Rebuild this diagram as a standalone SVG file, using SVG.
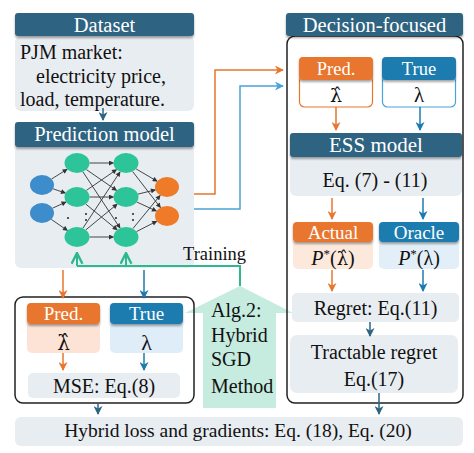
<svg xmlns="http://www.w3.org/2000/svg" width="474" height="453" viewBox="0 0 474 453">
<defs>
<style>
.t{font-family:"Liberation Serif","Times New Roman",serif;font-size:20px;fill:#111}
.m{font-family:"DejaVu Serif",serif;fill:#111}
.w{font-family:"Liberation Serif","Times New Roman",serif;font-size:20.5px;fill:#fff}
.hd{fill:#2d6482}
.gr{fill:#e8edf1}
.nn{stroke:#333;stroke-width:0.9;fill:none;marker-end:url(#ak)}
.hid{fill:#2ec49a}
.inp{fill:#3d8ccc}
.out{fill:#ef7a28}
.frame{fill:none;stroke:#222;stroke-width:1.5}
</style>
<filter id="sh" x="-5%" y="-20%" width="110%" height="160%"><feDropShadow dx="0" dy="2" stdDeviation="1.3" flood-color="#000" flood-opacity="0.35"/></filter>
<marker id="ak" viewBox="0 0 10 10" refX="9" refY="5" markerWidth="6" markerHeight="5" markerUnits="userSpaceOnUse" orient="auto"><path d="M0,0 L10,5 L0,10 z" fill="#333"/></marker>
<marker id="ao" viewBox="0 0 10 10" refX="9" refY="5" markerWidth="10" markerHeight="9" markerUnits="userSpaceOnUse" orient="auto"><path d="M0,0 L10,5 L0,10 L3,5 z" fill="#e8762d"/></marker>
<marker id="ab" viewBox="0 0 10 10" refX="9" refY="5" markerWidth="10" markerHeight="9" markerUnits="userSpaceOnUse" orient="auto"><path d="M0,0 L10,5 L0,10 L3,5 z" fill="#1b7bb0"/></marker>
<marker id="abl" viewBox="0 0 10 10" refX="9" refY="5" markerWidth="10" markerHeight="9" markerUnits="userSpaceOnUse" orient="auto"><path d="M0,0 L10,5 L0,10 L3,5 z" fill="#4aa3d6"/></marker>
<marker id="ad" viewBox="0 0 10 10" refX="9" refY="5" markerWidth="10" markerHeight="9" markerUnits="userSpaceOnUse" orient="auto"><path d="M0,0 L10,5 L0,10 L3,5 z" fill="#2d6482"/></marker>
<marker id="ag" viewBox="0 0 12 12" refX="11" refY="6" markerWidth="13" markerHeight="13" markerUnits="userSpaceOnUse" orient="auto"><path d="M1,1 L11,6 L1,11" fill="none" stroke="#2db88e" stroke-width="2.2"/></marker>
</defs>
<rect width="474" height="453" fill="#fff"/>

<g id="alg2">
<path d="M185,313 L240,286 L293,313 L276,313 L276,408 L203,408 L203,313 Z" fill="#c6ebdf"/>
<text class="t" x="211" y="317">Alg.2:</text>
<text class="t" x="211" y="342">Hybrid</text>
<text class="t" x="211" y="366">SGD</text>
<text class="t" x="211" y="393">Method</text>
</g>

<g id="dataset">
<rect x="15" y="36" width="179" height="75" rx="6" class="gr"/>
<rect x="15" y="13" width="179" height="23" rx="3" class="hd" filter="url(#sh)"/>
<text class="w" x="104.5" y="32" text-anchor="middle">Dataset</text>
<text class="t" x="20" y="59">PJM market:</text>
<text class="t" x="36" y="83">electricity price,</text>
<text class="t" x="20" y="106">load, temperature.</text>
</g>

<g id="prediction-model">
<rect x="15" y="145" width="179" height="123" rx="6" class="gr"/>
<rect x="15" y="122" width="179" height="25" rx="3" class="hd" filter="url(#sh)"/>
<text class="w" x="104.5" y="141" text-anchor="middle">Prediction model</text>
<g id="nn-edges">
<line class="nn" x1="51.6" y1="179" x2="67.2" y2="169.2"/>
<line class="nn" x1="53.1" y1="188.8" x2="65.5" y2="193.1"/>
<line class="nn" x1="52.5" y1="208.2" x2="66.1" y2="202"/>
<line class="nn" x1="51.3" y1="219.4" x2="67.5" y2="230.5"/>
<line class="nn" x1="89.5" y1="163" x2="113.5" y2="163"/>
<line class="nn" x1="86.4" y1="169.6" x2="116.6" y2="190.4"/>
<line class="nn" x1="82.9" y1="171.8" x2="120.1" y2="228.2"/>
<line class="nn" x1="86.4" y1="190.4" x2="116.6" y2="169.6"/>
<line class="nn" x1="89.5" y1="197" x2="113.5" y2="197"/>
<line class="nn" x1="85.8" y1="204.1" x2="117.2" y2="229.9"/>
<line class="nn" x1="82.9" y1="228.2" x2="120.1" y2="171.8"/>
<line class="nn" x1="85.8" y1="229.9" x2="117.2" y2="204.1"/>
<line class="nn" x1="89.5" y1="237" x2="113.5" y2="237"/>
<line class="nn" x1="136.1" y1="168.9" x2="157.2" y2="181.3"/>
<line class="nn" x1="132.6" y1="171.5" x2="160.5" y2="207.6"/>
<line class="nn" x1="138" y1="194.1" x2="155.5" y2="189.8"/>
<line class="nn" x1="136.8" y1="202" x2="156.5" y2="211.1"/>
<line class="nn" x1="132.9" y1="228.6" x2="160.2" y2="195.3"/>
<line class="nn" x1="136.5" y1="231.6" x2="156.8" y2="221.2"/>
</g>
<ellipse class="inp" cx="42" cy="185" rx="12" ry="10"/>
<ellipse class="inp" cx="42" cy="213" rx="12" ry="10"/>
<ellipse class="hid" cx="77" cy="163" rx="12.5" ry="10"/>
<ellipse class="hid" cx="77" cy="197" rx="12.5" ry="10"/>
<ellipse class="hid" cx="77" cy="237" rx="12.5" ry="10"/>
<ellipse class="hid" cx="126" cy="163" rx="12.5" ry="10"/>
<ellipse class="hid" cx="126" cy="197" rx="12.5" ry="10"/>
<ellipse class="hid" cx="126" cy="237" rx="12.5" ry="10"/>
<ellipse class="out" cx="167" cy="187" rx="12" ry="10"/>
<ellipse class="out" cx="167" cy="216" rx="12" ry="10"/>
<g fill="#222">
<circle cx="68" cy="218" r="1"/><circle cx="86" cy="214" r="1"/><circle cx="86" cy="220" r="1"/>
<circle cx="116" cy="218" r="1"/><circle cx="133" cy="214" r="1"/><circle cx="133" cy="220" r="1"/>
</g>
</g>

<g id="mse-box">
<rect x="15" y="297" width="179" height="106" rx="8" class="frame"/>
<rect x="27" y="321" width="73" height="32" rx="5" fill="#fde3d6"/>
<rect x="110" y="321" width="73" height="32" rx="5" fill="#deedf8"/>
<rect x="27" y="303" width="73" height="21" rx="4" fill="#e8762d" filter="url(#sh)"/>
<rect x="110" y="303" width="73" height="21" rx="4" fill="#1b7bb0" filter="url(#sh)"/>
<text class="w" x="63.5" y="320" text-anchor="middle" style="font-size:19px">Pred.</text>
<text class="w" x="146.5" y="320" text-anchor="middle" style="font-size:19px">True</text>
<text class="m" x="63.5" y="350" text-anchor="middle" style="font-size:20px">λ̂</text>
<text class="t" x="146.5" y="350" text-anchor="middle" style="font-size:22px">λ</text>
<rect x="28" y="373" width="152" height="25" rx="5" class="gr"/>
<text class="t" x="104" y="393" text-anchor="middle">MSE: Eq.(8)</text>
</g>

<g id="decision-focused">
<rect x="287" y="36" width="176" height="367" rx="8" class="frame"/>
<rect x="286" y="13" width="177" height="23" rx="3" class="hd" filter="url(#sh)"/>
<text class="w" x="374.5" y="32" text-anchor="middle">Decision-focused</text>
<rect x="299.5" y="76" width="73" height="31" rx="5" fill="#fff" stroke="#e8762d" stroke-width="1.2"/>
<rect x="382.5" y="76" width="73" height="31" rx="5" fill="#fff" stroke="#4aa3d6" stroke-width="1.2"/>
<rect x="299" y="57" width="74" height="23" rx="4" fill="#e8762d" filter="url(#sh)"/>
<rect x="382" y="57" width="74" height="23" rx="4" fill="#1b7bb0" filter="url(#sh)"/>
<text class="w" x="336" y="75" text-anchor="middle" style="font-size:18.5px">Pred.</text>
<text class="w" x="419" y="75" text-anchor="middle" style="font-size:18.5px">True</text>
<text class="m" x="336" y="102" text-anchor="middle" style="font-size:19px">λ̂</text>
<text class="t" x="419" y="102" text-anchor="middle" style="font-size:21px">λ</text>
</g>

<g id="ess-model">
<rect x="290" y="155" width="172" height="41" rx="6" class="gr"/>
<rect x="290" y="133" width="172" height="24" rx="3" class="hd" filter="url(#sh)"/>
<text class="w" x="376" y="152" text-anchor="middle" style="font-size:21px">ESS model</text>
<text class="t" x="375" y="187" text-anchor="middle">Eq. (7) - (11)</text>
</g>

<g id="actual-oracle">
<rect x="293" y="238" width="80" height="31" rx="5" fill="#fde8dc"/>
<rect x="379" y="238" width="80" height="31" rx="5" fill="#e3eff8"/>
<rect x="293" y="222" width="80" height="20" rx="4" fill="#e8762d" filter="url(#sh)"/>
<rect x="379" y="222" width="80" height="20" rx="4" fill="#1b7bb0" filter="url(#sh)"/>
<text class="w" x="333" y="239" text-anchor="middle" style="font-size:19px">Actual</text>
<text class="w" x="419" y="239" text-anchor="middle" style="font-size:19px">Oracle</text>
<text class="t" x="333" y="265" text-anchor="middle"><tspan font-style="italic">P</tspan><tspan dy="-7" font-size="13">*</tspan><tspan dy="7">(</tspan><tspan class="m" font-size="18">λ̂</tspan><tspan>)</tspan></text>
<text class="t" x="419" y="265" text-anchor="middle"><tspan font-style="italic">P</tspan><tspan dy="-7" font-size="13">*</tspan><tspan dy="7">(λ)</tspan></text>
</g>

<g id="regret">
<rect x="292" y="293" width="167" height="29" rx="5" class="gr"/>
<text class="t" x="375.5" y="315" text-anchor="middle">Regret: Eq.(11)</text>
</g>

<g id="tractable-regret">
<rect x="290" y="335" width="168" height="58" rx="7" class="gr"/>
<text class="t" x="374" y="359" text-anchor="middle">Tractable regret</text>
<text class="t" x="374" y="386" text-anchor="middle">Eq.(17)</text>
</g>

<g id="hybrid-loss">
<rect x="15" y="417" width="448" height="29" rx="6" class="gr"/>
<text class="t" x="238" y="437" text-anchor="middle" style="font-size:19.5px">Hybrid loss and gradients: Eq. (18), Eq. (20)</text>
</g>

<g id="training-label">
<text class="t" x="183" y="260" style="font-size:18.5px">Training</text>
</g>

<g id="connectors" fill="none" stroke-width="1.5">
<line x1="103" y1="108" x2="103" y2="120" stroke="#2d6482" marker-end="url(#ad)"/>
<polyline points="194,194 215,194 215,70 283,70" stroke="#e8762d" marker-end="url(#ao)"/>
<polyline points="194,209 240,209 240,86 283,86" stroke="#4aa3d6" marker-end="url(#abl)"/>
<line x1="336" y1="107" x2="336" y2="130" stroke="#e8762d" marker-end="url(#ao)"/>
<line x1="420" y1="107" x2="420" y2="130" stroke="#1b7bb0" marker-end="url(#ab)"/>
<line x1="332" y1="198" x2="332" y2="219" stroke="#e8762d" marker-end="url(#ao)"/>
<line x1="423" y1="198" x2="423" y2="219" stroke="#1b7bb0" marker-end="url(#ab)"/>
<line x1="332" y1="270" x2="332" y2="291" stroke="#e8762d" marker-end="url(#ao)"/>
<line x1="423" y1="270" x2="423" y2="291" stroke="#1b7bb0" marker-end="url(#ab)"/>
<line x1="370" y1="322" x2="370" y2="336" stroke="#2d6482" marker-end="url(#ad)"/>
<line x1="379" y1="393" x2="379" y2="414" stroke="#2d6482" marker-end="url(#ad)"/>
<line x1="98" y1="403" x2="98" y2="414" stroke="#2d6482" marker-end="url(#ad)"/>
<line x1="63" y1="270" x2="63" y2="298" stroke="#e8762d" marker-end="url(#ao)"/>
<line x1="144" y1="270" x2="144" y2="298" stroke="#1b7bb0" marker-end="url(#ab)"/>
<line x1="63" y1="353" x2="63" y2="370" stroke="#e8762d" marker-end="url(#ao)"/>
<line x1="144" y1="353" x2="144" y2="370" stroke="#1b7bb0" marker-end="url(#ab)"/>
<g stroke="#2db88e" stroke-width="2">
<polyline points="240,286 240,266 77,266"/>
<line x1="77" y1="266" x2="77" y2="253" marker-end="url(#ag)"/>
<line x1="126" y1="266" x2="126" y2="253" marker-end="url(#ag)"/>
</g>
</g>
</svg>
